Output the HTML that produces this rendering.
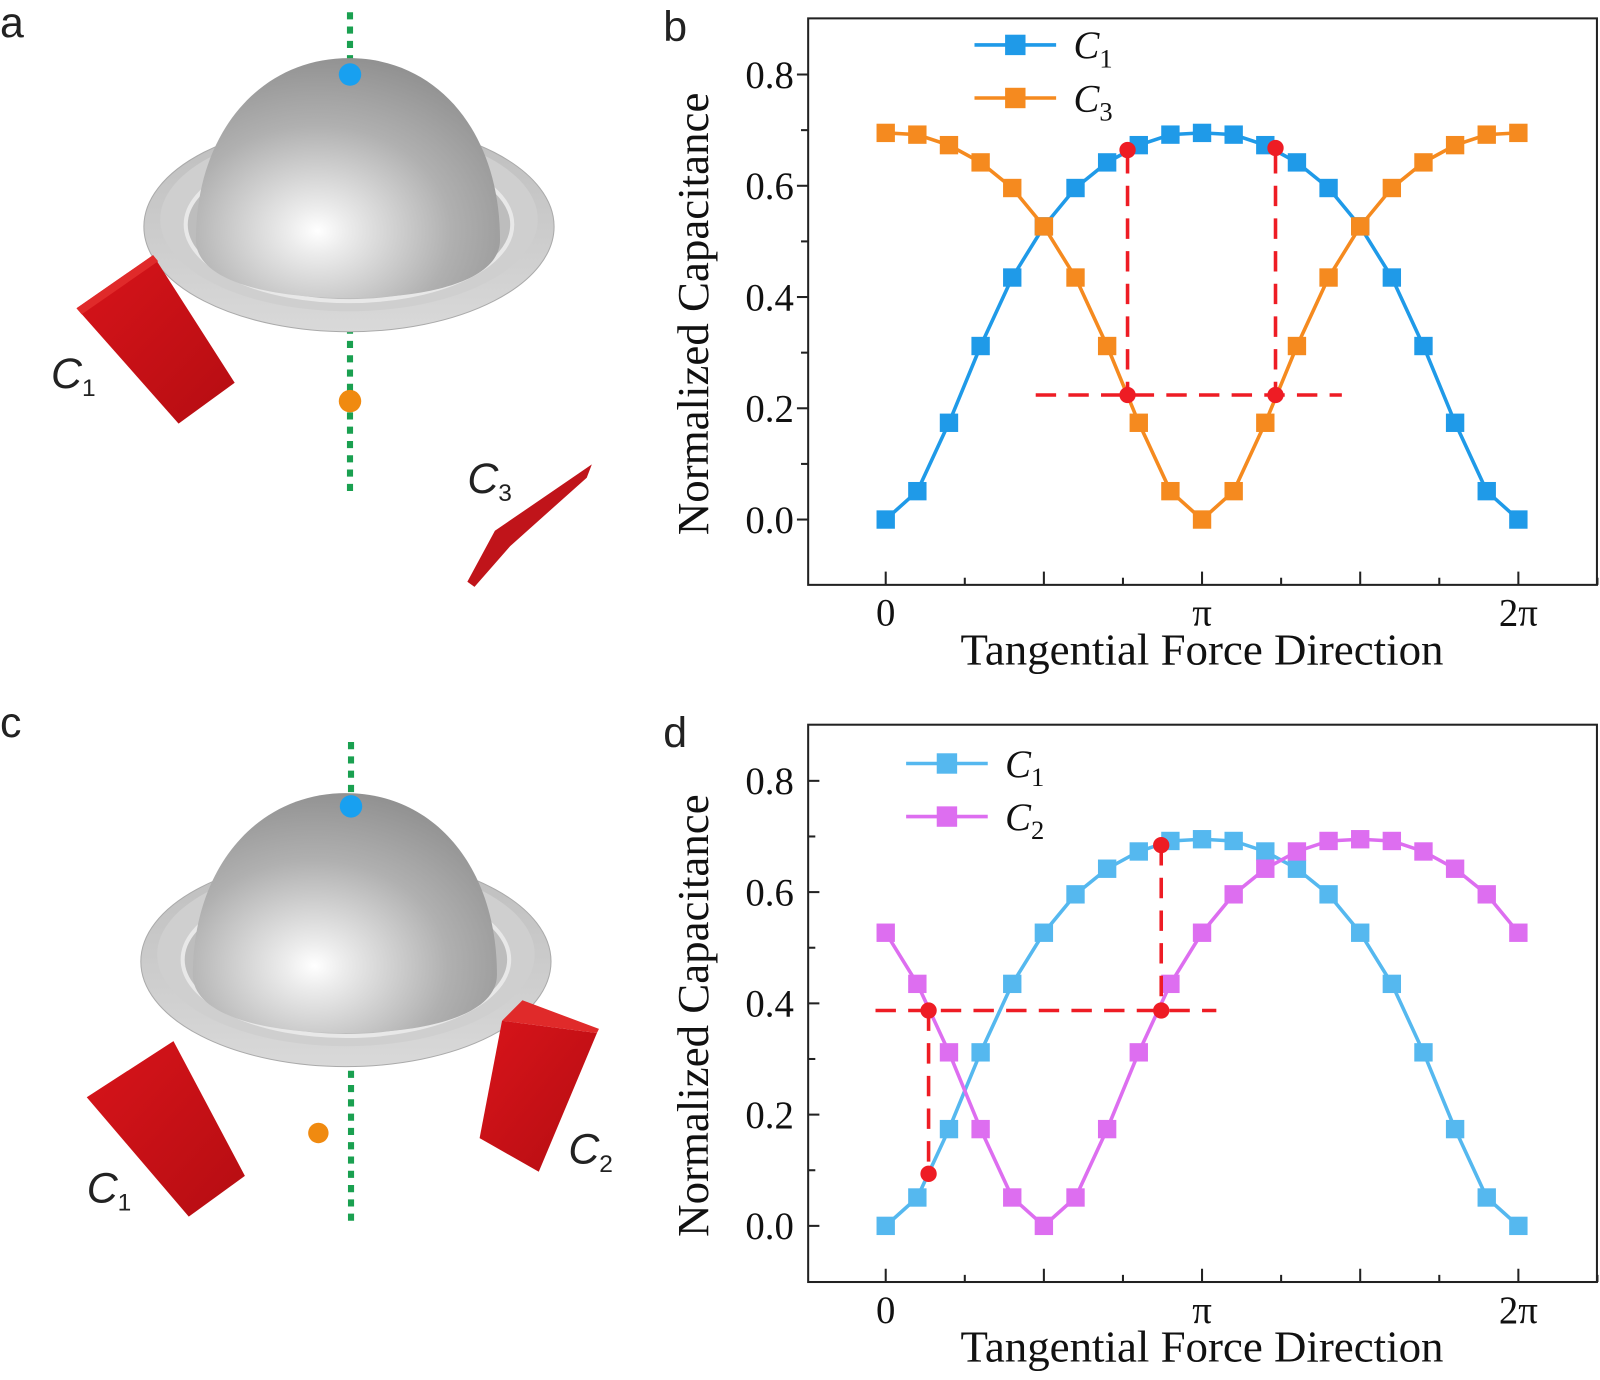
<!DOCTYPE html>
<html><head><meta charset="utf-8"><style>
html,body{margin:0;padding:0;background:#fff;width:1600px;height:1380px;overflow:hidden}
svg{display:block}
.ser{font-family:"Liberation Serif",serif;fill:#111}
.san{font-family:"Liberation Sans",sans-serif;fill:#222}
</style></head><body>
<svg id="s" width="1600" height="1380" viewBox="0 0 1568 1352" preserveAspectRatio="none" xmlns="http://www.w3.org/2000/svg">
<defs>
<radialGradient id="dome" cx="0.4" cy="0.72" r="0.8">
<stop offset="0" stop-color="#ffffff"/><stop offset="0.12" stop-color="#ececec"/><stop offset="0.55" stop-color="#b0b0b0"/><stop offset="1" stop-color="#8a8a8a"/></radialGradient>
<linearGradient id="ring" x1="0" y1="0" x2="0" y2="1"><stop offset="0" stop-color="#bdbdbd"/><stop offset="1" stop-color="#d9d9d9"/></linearGradient>
<linearGradient id="red" x1="0" y1="0" x2="1" y2="1"><stop offset="0" stop-color="#d8141a"/><stop offset="1" stop-color="#b50d12"/></linearGradient>
</defs>
<!-- panel a -->
<text class="san" x="0" y="36" font-size="42">a</text>
<line x1="343" y1="12" x2="343" y2="485" stroke="#1aa050" stroke-width="6" stroke-dasharray="7 7"/>
<g>
<ellipse cx="342" cy="222" rx="201" ry="103" fill="url(#ring)" stroke="#aaa" stroke-width="1"/>
<ellipse cx="342" cy="215" rx="185" ry="90" fill="#cfcfcf"/>
<ellipse cx="342" cy="220" rx="160" ry="75" fill="#bdbdbd" stroke="#e8e8e8" stroke-width="4"/>
<path d="M192 235 C192 130 255 57 342 57 C429 57 490 130 490 235 C490 275 420 292 342 292 C262 292 192 275 192 235Z" fill="url(#dome)"/>
</g>
<circle cx="343" cy="73" r="11" fill="#18a0f0"/>
<circle cx="343" cy="393" r="11" fill="#f08a10"/>
<polygon points="75,302 150,250 230,375 175,415" fill="url(#red)"/>
<polygon points="75,302 150,250 155,256 80,308" fill="#e02a2a"/>
<polygon points="458,570 485,520 580,455 575,468 500,535 465,575" fill="#c0141a"/>
<text class="san" x="50" y="380" font-size="42" font-style="italic">C<tspan font-size="24" dy="8" font-style="normal">1</tspan></text>
<text class="san" x="458" y="483" font-size="42" font-style="italic">C<tspan font-size="24" dy="8" font-style="normal">3</tspan></text>
<!-- panel c -->
<text class="san" x="0" y="722" font-size="42">c</text>
<line x1="344" y1="727" x2="344" y2="1200" stroke="#1aa050" stroke-width="6" stroke-dasharray="7 7"/>
<g transform="translate(-3,720)">
<ellipse cx="342" cy="222" rx="201" ry="103" fill="url(#ring)" stroke="#aaa" stroke-width="1"/>
<ellipse cx="342" cy="215" rx="185" ry="90" fill="#cfcfcf"/>
<ellipse cx="342" cy="220" rx="160" ry="75" fill="#bdbdbd" stroke="#e8e8e8" stroke-width="4"/>
<path d="M192 235 C192 130 255 57 342 57 C429 57 490 130 490 235 C490 275 420 292 342 292 C262 292 192 275 192 235Z" fill="url(#dome)"/>
</g>
<circle cx="344" cy="790" r="11" fill="#18a0f0"/>
<circle cx="312" cy="1110" r="10" fill="#f08a10"/>
<polygon points="85,1075 170,1020 240,1152 185,1192" fill="url(#red)"/>
<polygon points="470,1115 492,1000 585,1012 528,1148" fill="url(#red)"/>
<polygon points="492,1000 512,980 587,1008 585,1012" fill="#e02a2a"/>
<text class="san" x="85" y="1178" font-size="42" font-style="italic">C<tspan font-size="24" dy="8" font-style="normal">1</tspan></text>
<text class="san" x="557" y="1140" font-size="42" font-style="italic">C<tspan font-size="24" dy="8" font-style="normal">2</tspan></text>
<g id="plots"></g>
</svg>
<script>
var base=[0,0.051,0.174,0.312,0.435,0.527,0.596,0.642,0.673,0.692,0.695];
function c1(i){i=((i%20)+20)%20;return i<=10?base[i]:base[20-i];}
var P=document.getElementById('plots'),h='';
function plot(top,bot,y0,lbl,yIn,series,red,leg){
 var L=792,R=1565,x0=868,dx=31;
 h+='<text class="san" x="650" y="'+(top+22)+'" font-size="42">'+lbl+'</text>';
 h+='<rect x="'+L+'" y="'+top+'" width="'+(R-L)+'" height="'+(bot-top)+'" fill="none" stroke="#222" stroke-width="2"/>';
 for(var k=0;k<=8;k++){var y=y0-k*54.5,len=(k%2==0)?11:7;
  h+='<line x1="'+L+'" y1="'+y+'" x2="'+(yIn?L+len:L-len)+'" y2="'+y+'" stroke="#222" stroke-width="2"/>';
  if(k%2==0)h+='<text class="ser" x="778" y="'+(y+13)+'" font-size="38" text-anchor="end">'+(k/10).toFixed(1)+'</text>';}
 for(var k=-1;k<=9;k++){var x=x0+k*77.5,len=(k%2==0)?13:7;if(x<L)continue;
  h+='<line x1="'+x+'" y1="'+bot+'" x2="'+x+'" y2="'+(bot-len)+'" stroke="#222" stroke-width="2"/>';}
 h+='<text class="ser" x="'+x0+'" y="'+(bot+40)+'" font-size="38" text-anchor="middle">0</text>';
 h+='<text class="ser" x="'+(x0+310)+'" y="'+(bot+40)+'" font-size="38" text-anchor="middle">π</text>';
 h+='<text class="ser" x="'+(x0+620)+'" y="'+(bot+40)+'" font-size="38" text-anchor="middle">2π</text>';
 h+='<text class="ser" x="1178" y="'+(bot+78)+'" font-size="44" text-anchor="middle">Tangential Force Direction</text>';
 var cy=(top+bot)/2+12;
 h+='<text class="ser" transform="translate(694,'+cy+') rotate(-90)" font-size="44" text-anchor="middle">Normalized Capacitance</text>';
 series.forEach(function(s){var pts=[];for(var i=0;i<=20;i++)pts.push((x0+i*dx)+','+(y0-s.f(i)*545).toFixed(1));
  h+='<polyline points="'+pts.join(' ')+'" fill="none" stroke="'+s.c+'" stroke-width="3.5"/>';
  pts.forEach(function(p){var a=p.split(',');h+='<rect x="'+(a[0]-9)+'" y="'+(a[1]-9)+'" width="18" height="18" fill="'+s.c+'"/>';});});
 red.lines.forEach(function(l){h+='<line x1="'+l[0]+'" y1="'+l[1]+'" x2="'+l[2]+'" y2="'+l[3]+'" stroke="#ee1c24" stroke-width="3.5" stroke-dasharray="20 12"/>';});
 red.dots.forEach(function(d){h+='<circle cx="'+d[0]+'" cy="'+d[1]+'" r="8" fill="#ee1c24"/>';});
 leg.forEach(function(g){var y=g.y;h+='<line x1="'+g.x+'" y1="'+y+'" x2="'+(g.x+80)+'" y2="'+y+'" stroke="'+g.c+'" stroke-width="3.5"/><rect x="'+(g.x+30)+'" y="'+(y-10)+'" width="20" height="20" fill="'+g.c+'"/>';
  h+='<text class="ser" x="'+(g.x+97)+'" y="'+(y+13)+'" font-size="38" font-style="italic">C<tspan font-size="26" dy="9" font-style="normal">'+g.n+'</tspan></text>';});
}
plot(18,573,509,'b',false,[{c:'#1f9ae8',f:function(i){return c1(i)}},{c:'#f58a1f',f:function(i){return c1(i+10)}}],
 {lines:[[1015,387,1315,387],[1105,150,1105,387],[1250,150,1250,387]],dots:[[1105,147],[1105,387],[1250,145],[1250,387]]},
 [{x:955,y:44,c:'#1f9ae8',n:'1'},{x:955,y:96,c:'#f58a1f',n:'3'}]);
plot(710,1256,1201,'d',true,[{c:'#55b8ef',f:function(i){return c1(i)}},{c:'#dd6ef0',f:function(i){return c1(i-5)}}],
 {lines:[[858,990,1192,990],[910,990,910,1150],[1138,828,1138,990]],dots:[[910,990],[910,1150],[1138,828],[1138,990]]},
 [{x:888,y:748,c:'#55b8ef',n:'1'},{x:888,y:800,c:'#dd6ef0',n:'2'}]);
P.innerHTML=h;
</script>
</body></html>
